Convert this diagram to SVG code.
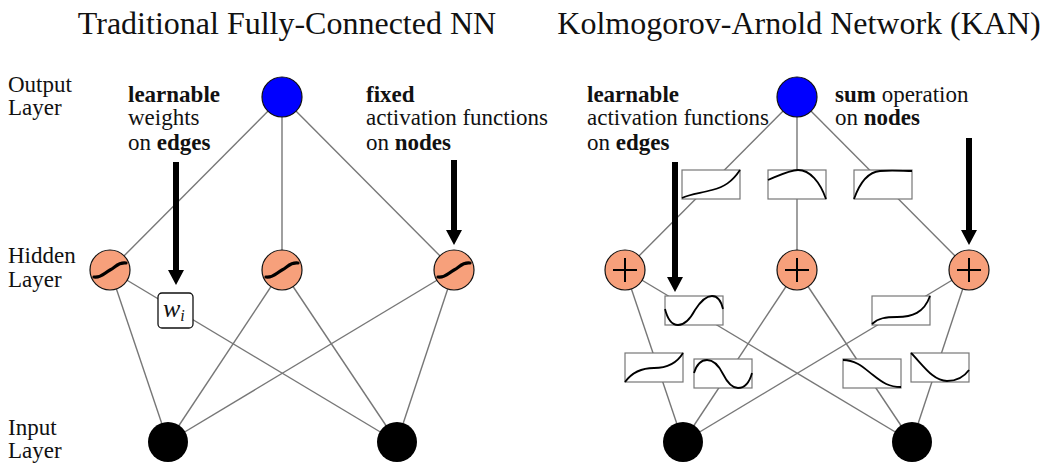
<svg xmlns="http://www.w3.org/2000/svg" width="1045" height="470" viewBox="0 0 1045 470">
<defs>
<style>
text{font-family:"Liberation Serif","DejaVu Serif",serif;fill:#111}
.title{font-size:32px}
.lab{font-size:23px}
.ann{font-size:23px}
.b{font-weight:bold}
.edge{stroke:#777;stroke-width:1.4;fill:none}
.out{fill:#0000ff;stroke:#111;stroke-width:1.2}
.hid{fill:#f7a07b;stroke:#111;stroke-width:1.2}
.inp{fill:#000}
.sig{fill:none;stroke:#000;stroke-width:3.2;stroke-linecap:round}
.plus{stroke:#000;stroke-width:2}
.fbox{fill:#fff;stroke:#777;stroke-width:1.2}
.curve{fill:none;stroke:#000;stroke-width:1.8}
.arr{stroke:#000;stroke-width:6;fill:none;marker-end:url(#ah)}
</style>
<marker id="ah" markerUnits="userSpaceOnUse" markerWidth="16" markerHeight="16" refX="0" refY="8" orient="auto" overflow="visible">
<path d="M0,0 L15,8 L0,16 Z" fill="#000"/>
</marker>
<path id="sigmoid" class="sig" d="M-16,7 C-8,8 -6,3 0,0 C6,-3 8,-8 16,-7"/>
<g id="plussign" class="plus"><line x1="-12" y1="0" x2="12" y2="0"/><line x1="0" y1="-12" x2="0" y2="12"/></g>
</defs>

<rect width="1045" height="470" fill="#fff"/>

<!-- titles -->
<text class="title" x="287" y="34" text-anchor="middle">Traditional Fully-Connected NN</text>
<text class="title" x="799" y="34" text-anchor="middle">Kolmogorov-Arnold Network (KAN)</text>

<!-- layer labels -->
<g id="labels">
<text class="lab" x="8" y="92">Output</text>
<text class="lab" x="8" y="115">Layer</text>
<text class="lab" x="8" y="263">Hidden</text>
<text class="lab" x="8" y="287">Layer</text>
<text class="lab" x="8" y="435">Input</text>
<text class="lab" x="8" y="458">Layer</text>
</g>

<!-- connectors -->
<g id="connectors">
<line class="edge" x1="282" y1="97" x2="110" y2="270"/>
<line class="edge" x1="282" y1="97" x2="282" y2="270"/>
<line class="edge" x1="282" y1="97" x2="454" y2="270"/>
<line class="edge" x1="110" y1="270" x2="168" y2="442"/>
<line class="edge" x1="110" y1="270" x2="397" y2="442"/>
<line class="edge" x1="282" y1="270" x2="168" y2="442"/>
<line class="edge" x1="282" y1="270" x2="397" y2="442"/>
<line class="edge" x1="454" y1="270" x2="168" y2="442"/>
<line class="edge" x1="454" y1="270" x2="397" y2="442"/>

<line class="edge" x1="797" y1="97" x2="625" y2="270"/>
<line class="edge" x1="797" y1="97" x2="797" y2="270"/>
<line class="edge" x1="797" y1="97" x2="969" y2="270"/>
<line class="edge" x1="625" y1="270" x2="683" y2="442"/>
<line class="edge" x1="625" y1="270" x2="912" y2="442"/>
<line class="edge" x1="797" y1="270" x2="683" y2="442"/>
<line class="edge" x1="797" y1="270" x2="912" y2="442"/>
<line class="edge" x1="969" y1="270" x2="683" y2="442"/>
<line class="edge" x1="969" y1="270" x2="912" y2="442"/>
</g>

<!-- left network nodes -->
<g id="mlp-out"><circle class="out" cx="282" cy="97" r="20"/></g>
<g id="mlp-h1"><circle class="hid" cx="110" cy="270" r="20"/><use href="#sigmoid" x="110" y="270"/></g>
<g id="mlp-h2"><circle class="hid" cx="282" cy="270" r="20"/><use href="#sigmoid" x="282" y="270"/></g>
<g id="mlp-h3"><circle class="hid" cx="454" cy="270" r="20"/><use href="#sigmoid" x="454" y="270"/></g>
<g id="mlp-in1"><circle class="inp" cx="168" cy="442" r="20"/></g>
<g id="mlp-in2"><circle class="inp" cx="397" cy="442" r="20"/></g>
<g id="weight">
<rect x="158" y="293" width="35" height="35" rx="4" fill="#fff" stroke="#111" stroke-width="1.3"/>
<text x="163" y="317" font-style="italic" font-size="26">w<tspan font-size="16" dy="4">i</tspan></text>
</g>

<!-- right network nodes -->
<g id="kan-out"><circle class="out" cx="797" cy="97" r="20"/></g>
<g id="kan-h1"><circle class="hid" cx="625" cy="270" r="20"/><use href="#plussign" x="625" y="270"/></g>
<g id="kan-h2"><circle class="hid" cx="797" cy="270" r="20"/><use href="#plussign" x="797" y="270"/></g>
<g id="kan-h3"><circle class="hid" cx="969" cy="270" r="20"/><use href="#plussign" x="969" y="270"/></g>
<g id="kan-in1"><circle class="inp" cx="683" cy="442" r="20"/></g>
<g id="kan-in2"><circle class="inp" cx="912" cy="442" r="20"/></g>

<!-- activation function boxes -->
<g id="phi-top1" transform="translate(682,170)"><rect class="fbox" width="58" height="29"/><path class="curve" d="M0,28 C8,24 20,23 30,20 C42,17 50,12 58,0"/></g>
<g id="phi-top2" transform="translate(768,170)"><rect class="fbox" width="58" height="29"/><path class="curve" d="M0,10 C12,5 22,0 30,0 C42,0 52,12 58,29"/></g>
<g id="phi-top3" transform="translate(854,170)"><rect class="fbox" width="58" height="29"/><path class="curve" d="M0,29 C6,12 14,2 26,1 C38,0 50,1 58,1"/></g>
<g id="phi-a" transform="translate(665,296)"><rect class="fbox" width="58" height="29"/><path class="curve" d="M0,13 Q4,29 13,29 Q22,29 30,14 Q39,0 47,0 Q55,0 58,13"/></g>
<g id="phi-b" transform="translate(872,296)"><rect class="fbox" width="58" height="29"/><path class="curve" d="M0,28 C6,22 14,21 25,21 C40,21 52,17 58,0"/></g>
<g id="phi-c" transform="translate(625,353)"><rect class="fbox" width="58" height="29"/><path class="curve" d="M0,29 C8,18 18,15 29,15 C42,15 52,10 58,0"/></g>
<g id="phi-d" transform="translate(694,359)"><rect class="fbox" width="58" height="29"/><path class="curve" d="M0,14 Q4,1 13,1 Q22,1 29,15 Q36,29 44,29 Q54,29 58,14"/></g>
<g id="phi-e" transform="translate(843,359)"><rect class="fbox" width="58" height="29"/><path class="curve" d="M0,1 C14,1 22,10 30,16 C40,24 46,28 58,28"/></g>
<g id="phi-f" transform="translate(911,353)"><rect class="fbox" width="58" height="29"/><path class="curve" d="M0,0 C12,12 22,28 36,28 C46,28 53,24 58,17"/></g>

<!-- annotations -->
<g id="ann-left-1">
<text class="ann b" x="128" y="102">learnable</text>
<text class="ann" x="128" y="125">weights</text>
<text class="ann" x="128" y="150">on <tspan class="b">edges</tspan></text>
</g>
<g id="ann-left-2">
<text class="ann b" x="366" y="102">fixed</text>
<text class="ann" x="366" y="125">activation functions</text>
<text class="ann" x="366" y="150">on <tspan class="b">nodes</tspan></text>
</g>
<g id="ann-right-1">
<text class="ann b" x="587" y="102">learnable</text>
<text class="ann" x="587" y="125">activation functions</text>
<text class="ann" x="587" y="150">on <tspan class="b">edges</tspan></text>
</g>
<g id="ann-right-2">
<text class="ann" x="835" y="102"><tspan class="b">sum</tspan> operation</text>
<text class="ann" x="835" y="125">on <tspan class="b">nodes</tspan></text>
</g>

<!-- arrows -->
<g id="arrows">
<line class="arr" x1="176" y1="162" x2="176" y2="270"/>
<line class="arr" x1="454" y1="160" x2="454" y2="230"/>
<line class="arr" x1="675" y1="162" x2="675" y2="277"/>
<line class="arr" x1="969" y1="138" x2="969" y2="230"/>
</g>
</svg>
